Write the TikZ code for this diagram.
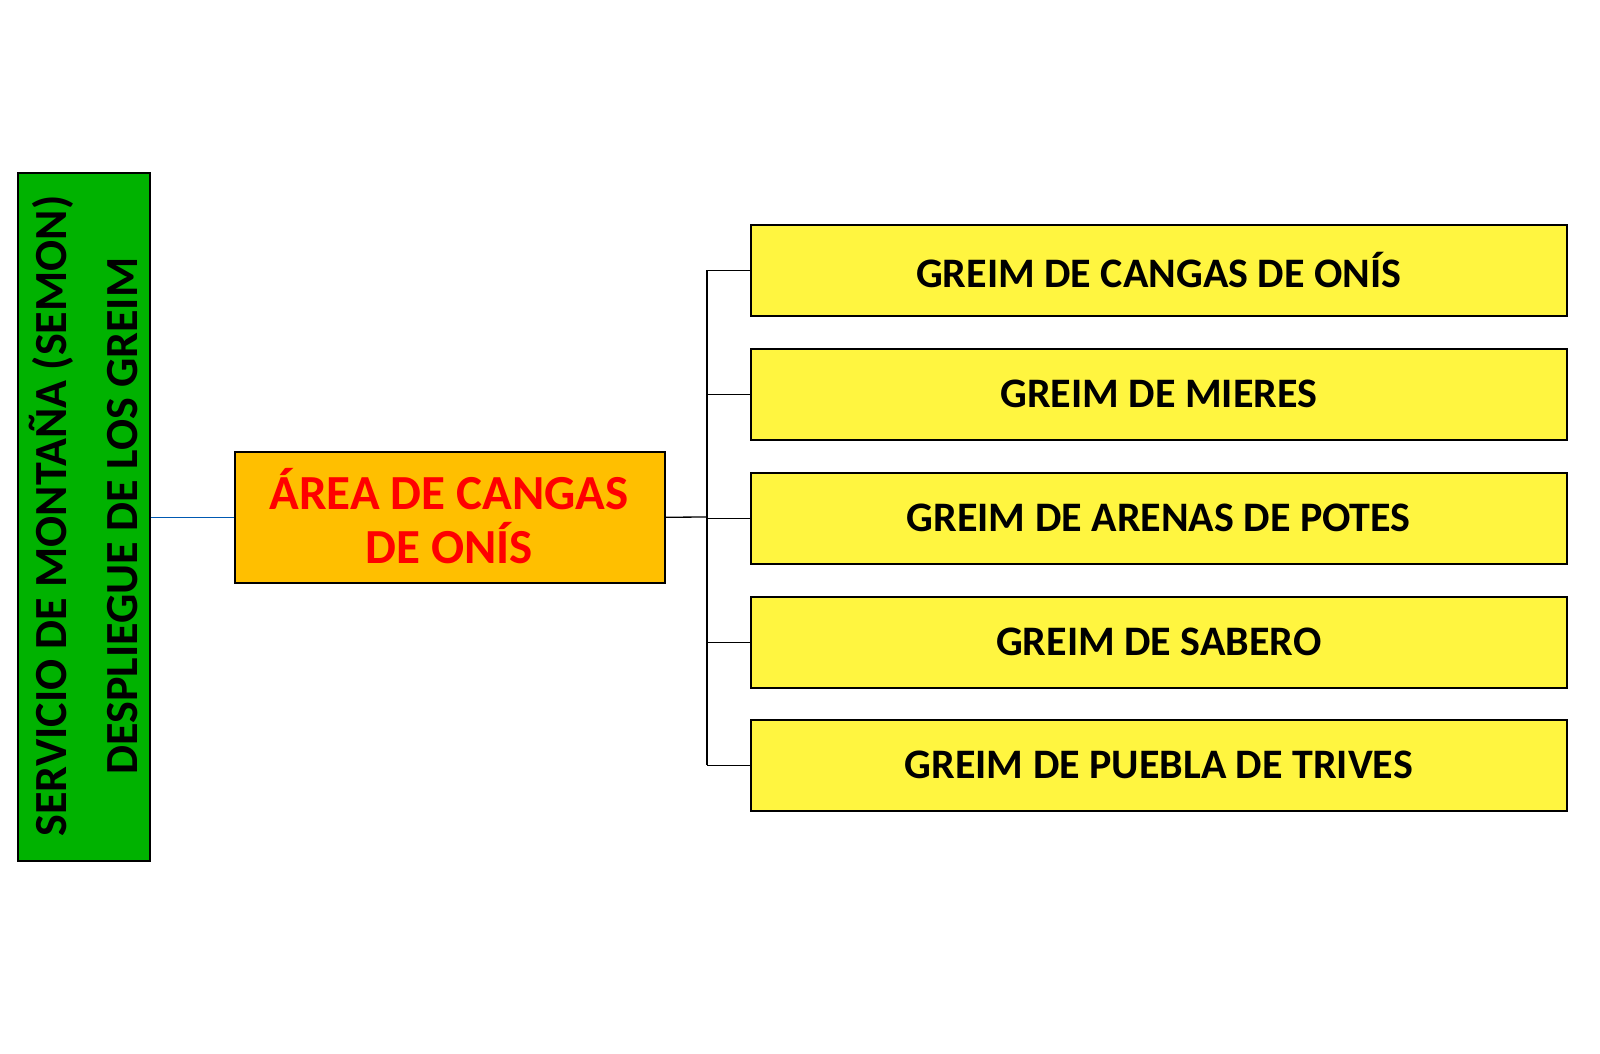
\documentclass[tikz,border=0pt]{standalone}
\usepackage{fontspec}
\setmainfont{Carlito}
\begin{document}
\begin{tikzpicture}[x=1pt,y=-1pt,
 gbox/.style={draw=black,line width=1.5pt,fill=yellow!75!white,minimum width=816pt,minimum height=91pt,anchor=north west,font=\bfseries\fontsize{42}{48}\selectfont},
 conn/.style={line width=1.3pt,black}]
\node[draw=black,line width=1.5pt,fill=green!70!black,minimum width=132pt,minimum height=688pt,anchor=north west,inner sep=0pt] (g) at (17,172) {};
\node[rotate=90,font=\bfseries\fontsize{46}{71}\selectfont,align=center,inner sep=0pt] (gt) at (83,516) {SERVICIO DE MONTAÑA (SEMON)\\DESPLIEGUE DE LOS GREIM};
\node[draw=black,line width=1.5pt,fill=orange!50!yellow,minimum width=430pt,minimum height=131pt,anchor=north west,inner sep=0pt] (a) at (234,451) {};
\node[font=\bfseries\fontsize{49}{54}\selectfont,text=red,align=center,inner sep=0pt] (at) at (449,516) {ÁREA DE CANGAS\\DE ONÍS};
\node[gbox] (b1) at (750,224) {GREIM DE CANGAS DE ONÍS};
\node[gbox] (b2) at (750,348) {GREIM DE MIERES};
\node[gbox] (b3) at (750,472) {GREIM DE ARENAS DE POTES};
\node[gbox] (b4) at (750,596) {GREIM DE SABERO};
\node[gbox] (b5) at (750,719) {GREIM DE PUEBLA DE TRIVES};
\draw[line width=1.3pt,blue!50!cyan!70!black] (g.east |- a.west) -- (a.west);
\coordinate (t) at (707,517);
\draw[conn] (a.east) -- (t);
\foreach \i in {1,...,5}{\draw[conn] (b\i.west) -- (t |- b\i.west);}
\draw[conn] (t |- b1.west) -- (t |- b5.west);
\pgfresetboundingbox
\useasboundingbox (0,0) rectangle (1600,1054);
\end{tikzpicture}
\end{document}
